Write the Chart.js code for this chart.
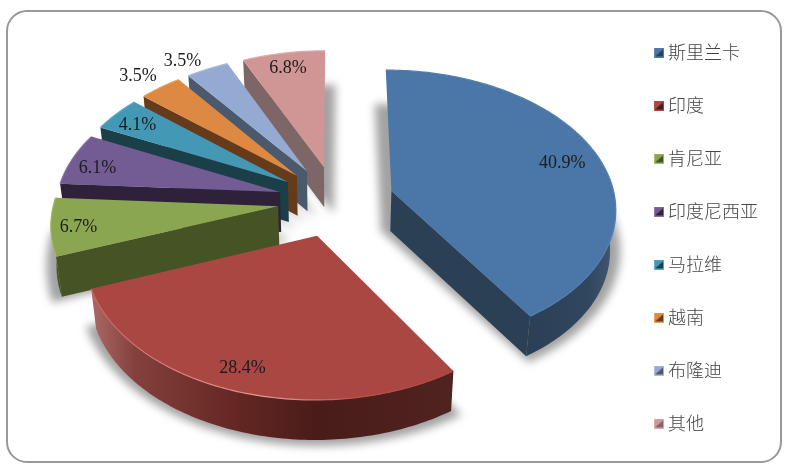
<!DOCTYPE html>
<html>
<head>
<meta charset="utf-8">
<title>出口占比</title>
<script src="https://cdn.jsdelivr.net/npm/chart.js@4/dist/chart.umd.min.js"></script>
<style>
body{margin:0;background:#fff;}
canvas{display:block;}
</style>
</head>
<body>
<canvas id="pie" width="792" height="468"></canvas>
<script>
// ---------- DATA ----------
const countries = ["斯里兰卡","印度","肯尼亚","印度尼西亚","马拉维","越南","布隆迪","其他"];
const shares = [40.9,28.4,6.7,6.1,4.1,3.5,3.5,6.8];

// ---------- COLOURS ----------
const topColors = ["#4a76a8","#ab4742","#8ba651","#735b94","#4399b5","#dd8941","#95aad3","#d09595"];
const wallColors = ["#2b3f55","#4a1c19","#465325","#2e2139","#1a3f49","#653b1b","#4b596c","#7e6666"];
const edgeColors = ["#5380b2","#ab4742","#a3bb6c","#8670a6","#5aadc8","#e79d5c","#a9bcdf","#dcaaaa"];

// where each percentage sits, as a fraction of radius and a small turn in degrees
const labelRadius = [0.83,0.86,0.88,0.87,0.87,1.18,1.16,0.88];
const labelTurn = [0,1,0,-1,0,0,-3,0];

// back slices are painted first
const paintOrder = [7,6,5,4,3,2,0,1];

// ---------- CAMERA ----------
const CX = 336, CY = 201;
const SCALE_X = 224, SCALE_Y = 136.9, TILT = 0.114;
const DEPTH = 40, EXPLODE = 0.26;

function project(u, v, z){
    const w = 1 - TILT*v;
    let x = SCALE_X*u/w;
    const y = SCALE_Y*v/w;
    if(z) x *= 0.98;
    return {x:CX+x, y:CY+y+(z?DEPTH:0)};
}

function dir(t){ return {u:Math.sin(t), v:-Math.cos(t)}; }

// turn one arc element into plane geometry
function sliceShape(arc){
    const a0 = arc.startAngle+Math.PI/2, a1 = arc.endAngle+Math.PI/2;
    const m = dir((a0+a1)/2);
    const ox = m.u*EXPLODE, oy = m.v*EXPLODE;
    const rim = [];
    const steps = Math.max(2, Math.round((a1-a0)*180/Math.PI));
    for(let i=0;i<=steps;i++){
        const t = a0+(a1-a0)*i/steps, d = dir(t);
        rim.push({u:ox+d.u, v:oy+d.v, t:t});
    }
    return {a0, a1, mid:(a0+a1)/2, ox, oy, rim};
}

function tracePoly(ctx, pts){
    ctx.beginPath();
    pts.forEach((p,i)=> i ? ctx.lineTo(p.x,p.y) : ctx.moveTo(p.x,p.y));
    ctx.closePath();
}

function facePoints(s, z){
    return [project(s.ox,s.oy,z)].concat(s.rim.map(p=>project(p.u,p.v,z)));
}

// ---------- SHADOWS ----------
function drawShadow(ctx, s){
    const pts = facePoints(s,true);
    const xs = pts.map(p=>p.x), ys = pts.map(p=>p.y);
    const x0 = Math.min(...xs), x1 = Math.max(...xs), y0 = Math.min(...ys), y1 = Math.max(...ys);
    const mx = (x0+x1)/2, my = (y0+y1)/2;
    const kx = 1+10/((x1-x0)/2), ky = 1+6/((y1-y0)/2);
    ctx.save();
    ctx.filter = "blur(4px)";
    ctx.fillStyle = "rgba(70,70,70,0.5)";
    tracePoly(ctx, pts.map(p=>({x:mx+(p.x-mx)*kx, y:my+(p.y-my)*ky})));
    ctx.fill();
    ctx.restore();
}

// ---------- WALLS ----------
// a flat wall shows only when its outward side turns toward the viewer
function drawRadialWall(ctx, s, edge, color){
    const a = project(s.ox,s.oy,false), b = project(edge.u,edge.v,false);
    const c = project(edge.u,edge.v,true), d = project(s.ox,s.oy,true);
    ctx.fillStyle = color;
    tracePoly(ctx,[a,b,c,d]);
    ctx.fill();
}

function outerWallFill(ctx, i, x0, x1){
    const g = ctx.createLinearGradient(x0,0,x1,0);
    if(i===1){
        g.addColorStop(0,"#ab6a67");
        g.addColorStop(0.12,"#84403c");
        g.addColorStop(0.4,"#642723");
        g.addColorStop(0.62,"#4a1c19");
        g.addColorStop(1,"#4f2320");
    }else if(i===0){
        g.addColorStop(0,"#2b3f55");
        g.addColorStop(0.7,"#30475f");
        g.addColorStop(0.92,"#3f546c");
        g.addColorStop(1,"#8a96a6");
    }else{
        g.addColorStop(0,wallColors[i]);
        g.addColorStop(1,wallColors[i]);
    }
    return g;
}

function drawOuterWall(ctx, s, i){
    const front = s.rim.filter(p=>p.t>Math.PI*0.5 && p.t<Math.PI*1.5);
    if(front.length<2) return;
    const upper = front.map(p=>project(p.u,p.v,false));
    const lower = front.map(p=>project(p.u,p.v,true)).reverse();
    const pts = upper.concat(lower);
    const xs = pts.map(p=>p.x);
    ctx.fillStyle = outerWallFill(ctx,i,Math.min(...xs),Math.max(...xs));
    tracePoly(ctx,pts);
    ctx.fill();
}

// ---------- TOP FACE ----------
function drawTop(ctx, s, i){
    ctx.fillStyle = topColors[i];
    tracePoly(ctx,facePoints(s,false));
    ctx.fill();

    // thin lit rim along the curved edge
    const first = project(s.rim[0].u,s.rim[0].v,false);
    const last = project(s.rim[s.rim.length-1].u,s.rim[s.rim.length-1].v,false);
    if(i===1){
        const g = ctx.createLinearGradient(last.x,0,first.x,0);
        g.addColorStop(0,"#c9635e");
        g.addColorStop(0.5,"#e39a94");
        g.addColorStop(0.72,"#b9534e");
        g.addColorStop(1,"#ab4742");
        ctx.strokeStyle = g;
    }else{
        ctx.strokeStyle = edgeColors[i];
    }
    ctx.lineWidth = 1.2;
    ctx.beginPath();
    s.rim.forEach((p,k)=>{
        const q = project(p.u,p.v,false);
        k ? ctx.lineTo(q.x,q.y) : ctx.moveTo(q.x,q.y);
    });
    ctx.stroke();
}

// ---------- PLUGINS ----------
const framePlugin = {
    id:"frame",
    beforeDraw(chart){
        const ctx = chart.ctx;
        ctx.save();
        ctx.fillStyle = "#fff";
        ctx.fillRect(0,0,chart.width,chart.height);
        ctx.strokeStyle = "#999";
        ctx.lineWidth = 2;
        ctx.beginPath();
        ctx.roundRect(7,11,774,451,20);
        ctx.stroke();
        ctx.restore();
    }
};

const solidPie = {
    id:"solidPie",
    beforeDatasetDraw(chart){
        const ctx = chart.ctx;
        const arcs = chart.getDatasetMeta(0).data;
        const shapes = arcs.map(sliceShape);

        ctx.save();
        paintOrder.forEach(i=>drawShadow(ctx,shapes[i]));
        paintOrder.forEach(i=>{
            const s = shapes[i];
            if(Math.sin(s.a0)<-1e-6) drawRadialWall(ctx,s,s.rim[0],wallColors[i]);
            if(Math.sin(s.a1)>1e-6) drawRadialWall(ctx,s,s.rim[s.rim.length-1],wallColors[i]);
            drawOuterWall(ctx,s,i);
            drawTop(ctx,s,i);
        });

        // percentage labels
        ctx.fillStyle = "#1c1c1c";
        ctx.font = "18px 'Liberation Serif'";
        ctx.textAlign = "center";
        ctx.textBaseline = "middle";
        shapes.forEach((s,i)=>{
            const d = dir(s.mid+labelTurn[i]*Math.PI/180);
            const p = project(s.ox+d.u*labelRadius[i], s.oy+d.v*labelRadius[i], false);
            ctx.fillText(shares[i].toFixed(1)+"%",p.x,p.y+3);
        });
        ctx.restore();
        return false;
    }
};

// ---------- LEGEND SWATCH ----------
// the canvas is wider than the swatch so the square sits close to its text
function makeSwatch(i){
    const c = document.createElement("canvas");
    c.width = 20;
    c.height = 10;
    const g = c.getContext("2d");
    g.translate(10,0);
    g.fillStyle = topColors[i];
    g.fillRect(0,0,10,10);
    g.fillStyle = wallColors[i];
    g.beginPath();
    g.moveTo(1,9);
    g.lineTo(9,9);
    g.lineTo(9,2);
    g.closePath();
    g.fill();
    g.strokeStyle = edgeColors[i];
    g.strokeRect(0.5,0.5,9,9);
    return c;
}

// ---------- CHART ----------
new Chart(document.getElementById("pie"),{
    type:"pie",
    data:{
        labels:countries,
        datasets:[{data:shares, backgroundColor:topColors}]
    },
    options:{
        responsive:false,
        animation:false,
        layout:{padding:{top:8,right:24}},
        plugins:{
            tooltip:{enabled:false},
            legend:{
                position:"right",
                labels:{
                    usePointStyle:true,
                    boxWidth:10,
                    boxHeight:10,
                    padding:35,
                    color:"#444",
                    font:{family:"'Noto Sans CJK SC'",size:18,weight:"300",lineHeight:1.2},
                    generateLabels(chart){
                        return countries.map((name,i)=>({
                            text:name,
                            fontColor:"#444",
                            pointStyle:makeSwatch(i),
                            hidden:false,
                            index:i
                        }));
                    }
                }
            }
        }
    },
    plugins:[framePlugin,solidPie]
});
</script>
</body>
</html>
